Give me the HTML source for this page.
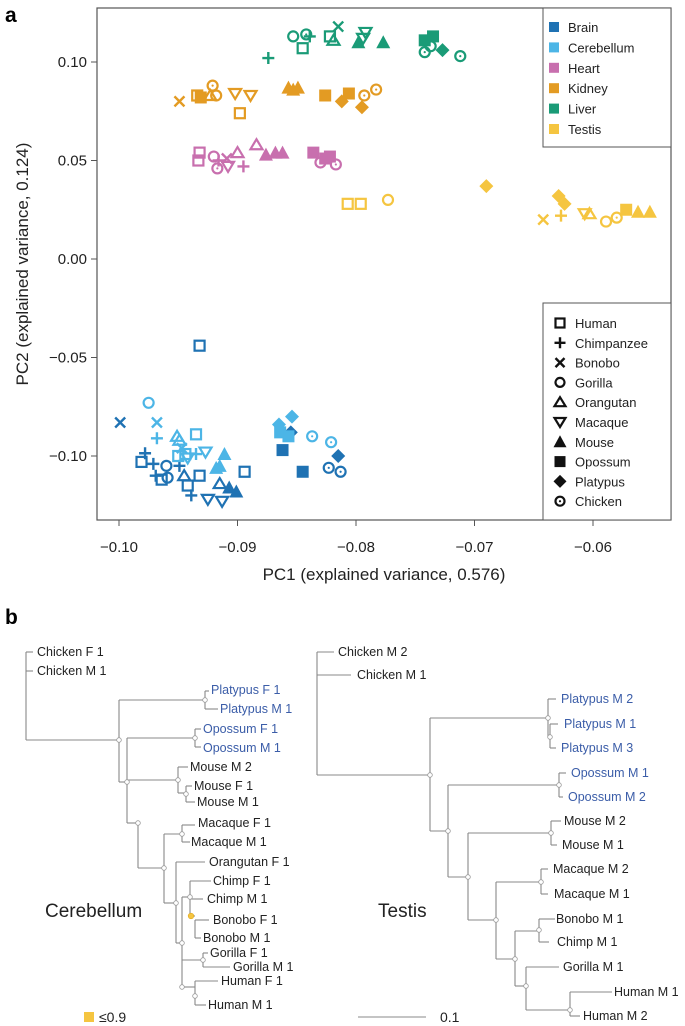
<!DOCTYPE html>
<html><head><meta charset="utf-8"><style>
body{margin:0;background:#fff;}
svg{display:block;font-family:"Liberation Sans",sans-serif;}
</style></head><body>
<svg id="fig" width="685" height="1026" viewBox="0 0 685 1026" xmlns="http://www.w3.org/2000/svg">
<text x="5" y="22" font-size="21" font-weight="bold">a</text>
<text x="5" y="624" font-size="21" font-weight="bold">b</text>
<rect x="97" y="8" width="574" height="512" fill="none" stroke="#555" stroke-width="1.2"/>
<g id="axes"></g>
<g id="points"></g>
<text x="384" y="580" font-size="17" text-anchor="middle" fill="#222">PC1 (explained variance, 0.576)</text>
<text transform="translate(28,264) rotate(-90)" font-size="17" text-anchor="middle" fill="#222">PC2 (explained variance, 0.124)</text>
<g>
<rect x="543" y="8" width="128" height="139" fill="#fff" stroke="#555" stroke-width="1"/>
<g id="tlegend"></g></g>
<g>
<rect x="543" y="303" width="128" height="217" fill="#fff" stroke="#555" stroke-width="1"/>
<g id="slegend"></g></g>
<g id="trees" stroke="#888" stroke-width="1.1" fill="none"></g>
<g id="treelabels" font-size="12.5"></g>
<text x="45" y="917" font-size="19" fill="#222">Cerebellum</text>
<text x="378" y="917" font-size="19" fill="#222">Testis</text>
<rect x="84" y="1012" width="10" height="10" fill="#f5c540"/>
<text x="99" y="1022" font-size="14" fill="#222">≤0.9</text>
<line x1="358" y1="1017" x2="426" y2="1017" stroke="#888" stroke-width="1.1"/>
<text x="440" y="1022" font-size="14" fill="#222">0.1</text>
</svg>
<script>
const xTicks=[-0.10,-0.09,-0.08,-0.07,-0.06];
const yTicks=[0.10,0.05,0.00,-0.05,-0.10];
const tissues=["Brain","Cerebellum","Heart","Kidney","Liver","Testis"];
const tissueColors=["#1f72b3","#4cb5e6","#c86fae","#e39b23","#1a9b77","#f5c540"];
const species=["Human","Chimpanzee","Bonobo","Gorilla","Orangutan","Macaque","Mouse","Opossum","Platypus","Chicken"];
// [PC1, PC2, speciesIndex]
const brainPts=[[-0.0932,-0.044,0],[-0.0999,-0.083,2],[-0.0978,-0.0986,1],[-0.0981,-0.103,0],[-0.0971,-0.104,1],[-0.0969,-0.110,1],[-0.0960,-0.105,3],[-0.0949,-0.105,1],[-0.0964,-0.112,0],[-0.0959,-0.111,3],[-0.0945,-0.110,4],[-0.0915,-0.114,4],[-0.0932,-0.110,0],[-0.0942,-0.115,0],[-0.0939,-0.120,1],[-0.0925,-0.122,5],[-0.0913,-0.123,5],[-0.0894,-0.108,0],[-0.0907,-0.116,6],[-0.0901,-0.118,6],[-0.0862,-0.097,7],[-0.0845,-0.108,7],[-0.0855,-0.088,8],[-0.0815,-0.100,8],[-0.0823,-0.106,9],[-0.0813,-0.108,9]];
const cerebPts=[[-0.0975,-0.073,3],[-0.0968,-0.083,2],[-0.0968,-0.091,1],[-0.0951,-0.090,4],[-0.0949,-0.092,4],[-0.0935,-0.089,0],[-0.0950,-0.100,0],[-0.0944,-0.099,0],[-0.0947,-0.096,2],[-0.0942,-0.101,5],[-0.0935,-0.099,1],[-0.0927,-0.098,5],[-0.0911,-0.099,6],[-0.0915,-0.105,6],[-0.0918,-0.106,6],[-0.0865,-0.084,8],[-0.0854,-0.080,8],[-0.0857,-0.090,7],[-0.0864,-0.088,7],[-0.0837,-0.090,9],[-0.0821,-0.093,9]];
const heartPts=[[-0.0932,0.054,0],[-0.0933,0.050,0],[-0.0920,0.052,3],[-0.0916,0.050,1],[-0.0909,0.051,2],[-0.0917,0.046,9],[-0.0908,0.047,5],[-0.0900,0.054,4],[-0.0895,0.047,1],[-0.0884,0.058,4],[-0.0876,0.053,6],[-0.0868,0.054,6],[-0.0862,0.054,6],[-0.0836,0.054,7],[-0.0826,0.051,7],[-0.0822,0.052,7],[-0.0830,0.049,9],[-0.0817,0.048,9]];
const kidneyPts=[[-0.0949,0.080,2],[-0.0934,0.083,0],[-0.0931,0.082,7],[-0.0921,0.088,9],[-0.0923,0.083,4],[-0.0918,0.083,3],[-0.0902,0.084,5],[-0.0889,0.083,5],[-0.0898,0.074,0],[-0.0857,0.087,6],[-0.0853,0.086,6],[-0.0849,0.087,6],[-0.0826,0.083,7],[-0.0806,0.084,7],[-0.0812,0.080,8],[-0.0795,0.077,8],[-0.0793,0.083,9],[-0.0783,0.086,9]];
const liverPts=[[-0.0874,0.102,1],[-0.0853,0.113,3],[-0.0842,0.114,9],[-0.0845,0.107,0],[-0.0839,0.113,1],[-0.0822,0.113,0],[-0.0819,0.111,4],[-0.0815,0.118,2],[-0.0792,0.115,5],[-0.0798,0.110,6],[-0.0794,0.112,5],[-0.0777,0.110,6],[-0.0742,0.111,7],[-0.0735,0.113,7],[-0.0742,0.105,9],[-0.0737,0.108,3],[-0.0727,0.106,8],[-0.0712,0.103,9]];
const testisPts=[[-0.0807,0.028,0],[-0.0796,0.028,0],[-0.0773,0.030,3],[-0.0690,0.037,8],[-0.0629,0.032,8],[-0.0624,0.028,8],[-0.0642,0.020,2],[-0.0627,0.022,1],[-0.0607,0.023,5],[-0.0603,0.023,4],[-0.0589,0.019,3],[-0.0580,0.021,9],[-0.0572,0.025,7],[-0.0562,0.024,6],[-0.0552,0.024,6]];
const allSets=[brainPts,cerebPts,heartPts,kidneyPts,liverPts,testisPts];

const NS="http://www.w3.org/2000/svg";
function sx(v){return 119+(v+0.10)*11850;}
function sy(v){return 259-v*1970;}
function mk(tag,attrs,parent){const e=document.createElementNS(NS,tag);for(const k in attrs)e.setAttribute(k,attrs[k]);parent.appendChild(e);return e;}
function marker(parent,s,x,y,c,r){
  r=r||6;let g;const open={fill:"none",stroke:c,"stroke-width":2.2};
  switch(s){
    case 0:g=mk("rect",Object.assign({x:x-r+1,y:y-r+1,width:2*r-2,height:2*r-2},open),parent);break;
    case 1:g=mk("path",{d:`M${x-r} ${y}H${x+r}M${x} ${y-r}V${y+r}`,stroke:c,"stroke-width":2.4,fill:"none"},parent);break;
    case 2:g=mk("path",{d:`M${x-r+1} ${y-r+1}L${x+r-1} ${y+r-1}M${x-r+1} ${y+r-1}L${x+r-1} ${y-r+1}`,stroke:c,"stroke-width":2.4,fill:"none"},parent);break;
    case 3:g=mk("circle",Object.assign({cx:x,cy:y,r:r-1},open),parent);break;
    case 4:g=mk("path",Object.assign({d:`M${x} ${y-r+0.5}L${x+r} ${y+r-1.5}L${x-r} ${y+r-1.5}Z`},open),parent);break;
    case 5:g=mk("path",Object.assign({d:`M${x} ${y+r-0.5}L${x+r} ${y-r+1.5}L${x-r} ${y-r+1.5}Z`},open),parent);break;
    case 6:g=mk("path",{d:`M${x} ${y-r-1}L${x+r+1} ${y+r}L${x-r-1} ${y+r}Z`,fill:c},parent);break;
    case 7:g=mk("rect",{x:x-r,y:y-r,width:2*r,height:2*r,fill:c},parent);break;
    case 8:g=mk("path",{d:`M${x} ${y-r-1}L${x+r+1} ${y}L${x} ${y+r+1}L${x-r-1} ${y}Z`,fill:c},parent);break;
    case 9:g=mk("g",{},parent);mk("circle",{cx:x,cy:y,r:r-1,fill:"none",stroke:c,"stroke-width":2.2},g);mk("circle",{cx:x,cy:y,r:1.1,fill:c},g);break;
  }
  return g;
}
const axes=document.getElementById("axes");
xTicks.forEach(t=>{
  const tk=mk("line",{x1:sx(t),x2:sx(t),y1:520,y2:526,stroke:"#555"},axes);
  
  
  const tl=mk("text",{x:sx(t),y:552,"font-size":15,"text-anchor":"middle",fill:"#222"},axes);
  tl.textContent=t.toFixed(2).replace("-","\u2212");
  
  
});
yTicks.forEach(t=>{
  const tk=mk("line",{x1:91,x2:97,y1:sy(t),y2:sy(t),stroke:"#555"},axes);
  
  
  const tl=mk("text",{x:87,y:sy(t)+5,"font-size":15,"text-anchor":"end",fill:"#222"},axes);
  tl.textContent=t.toFixed(2).replace("-","\u2212");
  
  
});
const pts=document.getElementById("points");
allSets.forEach((set,ti)=>{
  set.forEach(p=>{
    const m=marker(pts,p[2],sx(p[0]),sy(p[1]),tissueColors[ti]);
    
    
  });
});
const tl=document.getElementById("tlegend");
tissues.forEach((t,i)=>{
  const y=27+i*20.4;
  const r=mk("rect",{x:549,y:y-5,width:10,height:10,fill:tissueColors[i]},tl);
  
  
  const tx=mk("text",{x:568,y:y+5,"font-size":13,fill:"#222"},tl);
  tx.textContent=t;
  
  
});
const sl=document.getElementById("slegend");
species.forEach((s,i)=>{
  const y=323+i*19.8;
  const m=marker(sl,i,560,y,"#111",5.5);
  
  
  const tx=mk("text",{x:575,y:y+5,"font-size":13,fill:"#222"},sl);
  tx.textContent=s;
  
  
});
const cerebSegs=[[26,652,26,740],[26,652,33,652],[26,671,33,671],[26,740,119,740],[119,700,119,782],[119,700,205,700],[205,691,205,709],[205,691,209,691],[205,709,218,709],
[119,782,127,782],[127,738,127,823],[127,738,195,738],[195,729,195,747],[195,729,201,729],[195,747,201,747],
[127,780,178,780],[178,767,178,793],[178,767,188,767],[178,793,186,793],[186,786,186,802],[186,786,192,786],[186,802,195,802],
[127,823,138,823],[138,823,138,868],[138,868,164,868],[164,834,164,903],[164,834,182,834],[182,825,182,842],[182,825,195,825],[182,842,190,842],
[164,903,176,903],[176,862,176,943],[176,862,205,862],[176,943,182,943],[182,897,182,987],[182,897,190,897],[190,881,190,916],[190,881,211,881],[190,899,203,899],[190,916,195,916],[195,920,195,938],[195,920,209,920],[195,938,201,938],
[182,960,203,960],[203,953,203,967],[203,953,208,953],[203,967,230,967],[182,987,195,987],[195,981,195,1005],[195,981,218,981],[195,1005,206,1005]];
const cerebNodes=[[119,740],[205,700],[127,782],[195,738],[178,780],[186,794],[138,823],[164,868],[182,834],[176,903],[190,897],[182,943],[203,960],[182,987],[195,996]];
const testisSegs=[[317,652,317,775],[317,652,334,652],[317,675,351,675],[317,775,430,775],[430,718,430,831],[430,718,548,718],[548,699,548,737],[548,699,556,699],[548,737,550,737],[550,724,550,748],[550,724,558,724],[550,748,556,748],
[430,831,448,831],[448,785,448,877],[448,785,559,785],[559,773,559,797],[559,773,566,773],[559,797,563,797],
[448,877,468,877],[468,833,468,920],[468,833,551,833],[551,821,551,845],[551,821,561,821],[551,845,557,845],
[468,920,496,920],[496,882,496,959],[496,882,541,882],[541,869,541,894],[541,869,548,869],[541,894,548,894],
[496,959,515,959],[515,931,515,986],[515,931,539,931],[539,919,539,942],[539,919,555,919],[539,942,549,942],
[515,986,526,986],[526,967,526,1010],[526,967,559,967],[526,1010,570,1010],[570,992,570,1016],[570,992,612,992],[570,1016,580,1016]];
const testisNodes=[[430,775],[548,718],[550,737],[448,831],[559,785],[468,877],[551,833],[496,920],[541,882],[515,959],[539,930],[526,986],[570,1010]];
const tg=document.getElementById("trees");
[...cerebSegs,...testisSegs].forEach(s=>{
  const l=mk("line",{x1:s[0],y1:s[1],x2:s[2],y2:s[3]},tg);
  
  
});
[...cerebNodes,...testisNodes].forEach(n=>{
  const c=mk("circle",{cx:n[0],cy:n[1],r:2.3,fill:"#fff",stroke:"#999","stroke-width":0.8},tg);
  
  
});
const orange=mk("circle",{cx:191,cy:916,r:2.8,fill:"#f5c540",stroke:"#e0a820","stroke-width":0.6},tg);


const labels=[["Chicken F 1",37,656,0],["Chicken M 1",37,675,0],["Platypus F 1",211,694,1],["Platypus M 1",220,713,1],["Opossum F 1",203,733,1],["Opossum M 1",203,752,1],
["Mouse M 2",190,771,0],["Mouse F 1",194,790,0],["Mouse M 1",197,806,0],["Macaque F 1",198,827,0],["Macaque M 1",191,846,0],["Orangutan F 1",209,866,0],
["Chimp F 1",213,885,0],["Chimp M 1",207,903,0],["Bonobo F 1",213,924,0],["Bonobo M 1",203,942,0],["Gorilla F 1",210,957,0],["Gorilla M 1",233,971,0],["Human F 1",221,985,0],["Human M 1",208,1009,0],
["Chicken M 2",338,656,0],["Chicken M 1",357,679,0],["Platypus M 2",561,703,1],["Platypus M 1",564,728,1],["Platypus M 3",561,752,1],["Opossum M 1",571,777,1],["Opossum M 2",568,801,1],
["Mouse M 2",564,825,0],["Mouse M 1",562,849,0],["Macaque M 2",553,873,0],["Macaque M 1",554,898,0],["Bonobo M 1",556,923,0],["Chimp M 1",557,946,0],["Gorilla M 1",563,971,0],["Human M 1",614,996,0],["Human M 2",583,1020,0]];
const lg=document.getElementById("treelabels");
labels.forEach(l=>{
  const t=mk("text",{x:l[1],y:l[2],fill:l[3]?"#3b5da8":"#222"},lg);
  t.textContent=l[0];
  
  
});
</script>
</body></html>
